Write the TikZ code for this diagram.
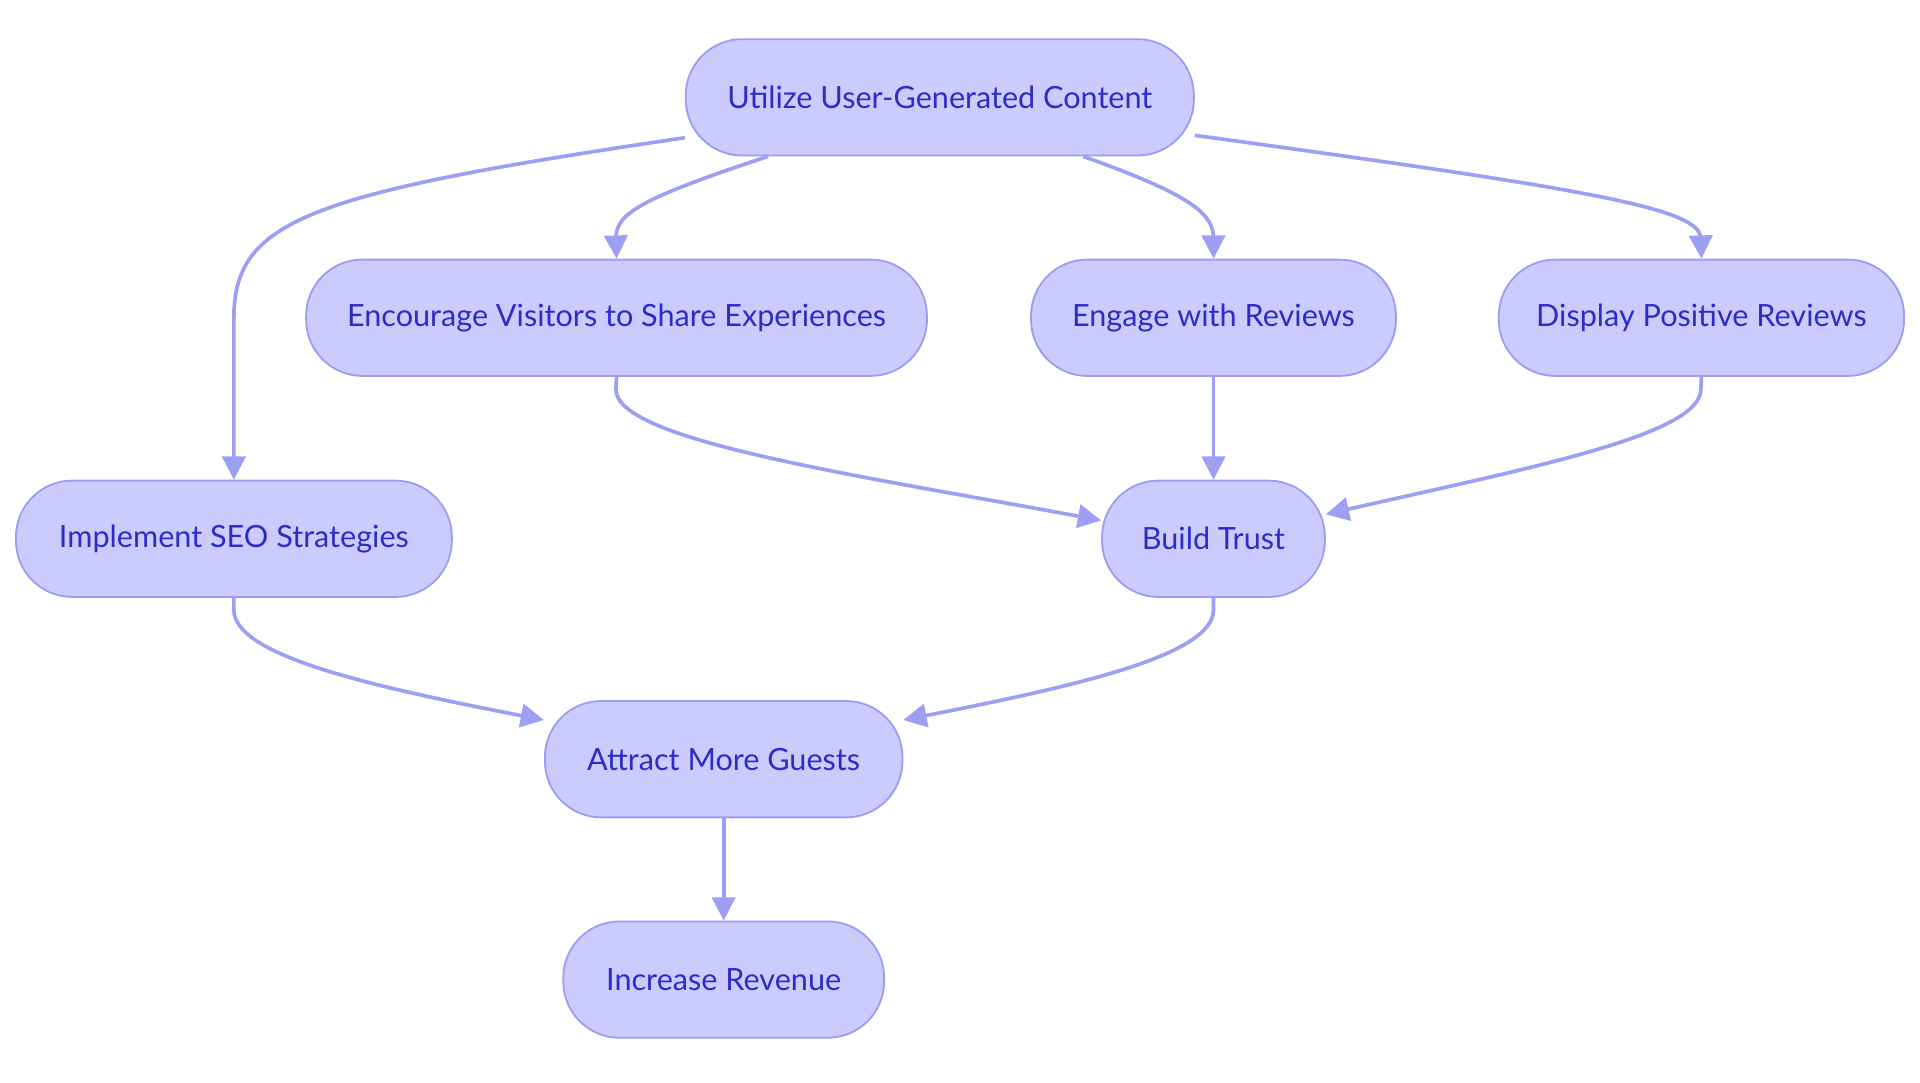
\documentclass[tikz,border=0pt]{standalone}
\usepackage{fontspec}
\setmainfont{Lato}
\usepackage{tikz}
\usetikzlibrary{arrows.meta,calc}
\definecolor{boxfill}{RGB}{203,203,253}
\definecolor{boxline}{RGB}{155,158,240}
\definecolor{boxtext}{RGB}{44,44,200}
\definecolor{flowline}{RGB}{157,160,242}

\begin{document}
\begin{tikzpicture}[x=1pt,y=-1pt,
  stadium/.style={draw=boxline,line width=1.5pt,fill=boxfill,text=boxtext,
    rounded corners=46pt,minimum height=95pt,inner sep=0pt,
    font=\fontsize{25}{30}\selectfont},
  flow/.style={draw=flowline,line width=3pt,
    -{Triangle[length=19pt,width=19pt]}}]
\useasboundingbox (0,0) rectangle (1568,884);
% nodes
\node[stadium,minimum width=415pt] (utilize) at (767.5,79.5) {Utilize User-Generated Content};
\node[stadium,minimum width=507pt] (encourage) at (503.5,259.5) {Encourage Visitors to Share Experiences};
\node[stadium,minimum width=298pt] (engage) at (991,259.5) {Engage with Reviews};
\node[stadium,minimum width=331pt] (display) at (1389.5,259.5) {Display Positive Reviews};
\node[stadium,minimum width=356pt] (seo) at (191,440) {Implement SEO Strategies};
\node[stadium,minimum width=182pt] (trust) at (991,440) {Build Trust};
\node[stadium,minimum width=292pt] (guests) at (591,620) {Attract More Guests};
\node[stadium,minimum width=262pt] (revenue) at (591,800) {Increase Revenue};
% edges
\draw[flow] ($(utilize.west)+(0,33)$) .. controls (250,158) and (191,180) .. (191,260) -- (seo.north);
\draw[flow] ($(utilize.south west)+(68,0)$) .. controls (520,163) and (503,175) .. (503,195) -- (encourage.north);
\draw[flow] ($(utilize.south east)+(-91,0)$) .. controls (975,160) and (991,175) .. (991,195) -- (engage.north);
\draw[flow] ($(utilize.east)+(0,31)$) .. controls (1300,155) and (1389,170) .. (1389,195) -- (display.north);
\draw[flow] (encourage.south) -- (503,318) .. controls (503,360) and (700,388) .. ($(trust.west)+(0,-15)$);
\draw[flow] (engage.south) -- (trust.north);
\draw[flow] (display.south) -- (1389,318) .. controls (1389,355) and (1250,382) .. ($(trust.east)+(0,-20)$);
\draw[flow] (seo.south) -- (191,498) .. controls (191,535) and (300,560) .. ($(guests.west)+(0,-32)$);
\draw[flow] (trust.south) -- (991,498) .. controls (991,535) and (880,560) .. ($(guests.east)+(0,-32)$);
\draw[flow] (guests.south) -- (revenue.north);
\end{tikzpicture}
\end{document}
